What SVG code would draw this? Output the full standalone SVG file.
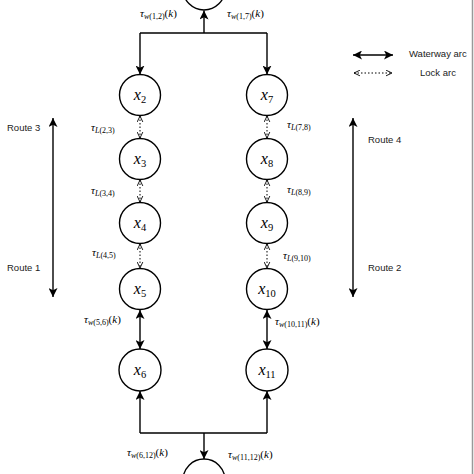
<svg xmlns="http://www.w3.org/2000/svg" width="474" height="474" viewBox="0 0 474 474">
<defs>
<marker id="arr" viewBox="0 0 10 10" refX="10" refY="5" markerWidth="9" markerHeight="9" markerUnits="userSpaceOnUse" orient="auto-start-reverse">
<path d="M0,0 L10,5 L0,10 L2.5,5 z" fill="#000"/>
</marker>
<marker id="chev" viewBox="0 0 10 10" refX="9.5" refY="5" markerWidth="7" markerHeight="7" markerUnits="userSpaceOnUse" orient="auto-start-reverse">
<path d="M1,1 L9.5,5 L1,9" fill="none" stroke="#000" stroke-width="1.3"/>
</marker>
</defs>
<style>
.node circle{fill:#fff;stroke:#000;stroke-width:1.4}
.nl{font-family:"Liberation Serif",serif;font-style:italic;font-size:16px;text-anchor:middle;fill:#000}
.nl tspan.s{font-size:10.5px;font-style:normal}
.w{fill:none;stroke:#000;stroke-width:1.4}
.wa{marker-start:url(#arr);marker-end:url(#arr)}
.lk{fill:none;stroke:#000;stroke-width:1;stroke-dasharray:1.5 2;marker-start:url(#chev);marker-end:url(#chev)}
.m{font-family:"Liberation Serif",serif;font-size:11px;fill:#000}
.m .i{font-style:italic}
.m .sb{font-size:8px}
.lg{font-family:"Liberation Sans",Arial,sans-serif;font-size:9.5px;fill:#222}
</style>
<rect width="474" height="474" fill="#fff"/>
<line x1="472.5" y1="0" x2="472.5" y2="474" stroke="#999" stroke-width="1.5"/>

<g id="connectors">
<path class="w" d="M140,33 H267"/>
<path class="w" d="M204,33 V10.5" marker-end="url(#arr)"/>
<path class="w" d="M140,33 V74.5" marker-end="url(#arr)"/>
<path class="w" d="M267,33 V74.5" marker-end="url(#arr)"/>
<line class="lk" x1="140" y1="116" x2="140" y2="138"/>
<line class="lk" x1="140" y1="180" x2="140" y2="202"/>
<line class="lk" x1="140" y1="244" x2="140" y2="268"/>
<line class="lk" x1="267" y1="116" x2="267" y2="138"/>
<line class="lk" x1="267" y1="180" x2="267" y2="202"/>
<line class="lk" x1="267" y1="244" x2="267" y2="268"/>
<line class="w wa" x1="140" y1="310" x2="140" y2="349"/>
<line class="w wa" x1="267" y1="310" x2="267" y2="349"/>
<path class="w" d="M140,433 H267"/>
<path class="w" d="M140,433 V391" marker-end="url(#arr)"/>
<path class="w" d="M267,433 V391" marker-end="url(#arr)"/>
<path class="w" d="M204,433 V459" marker-end="url(#arr)"/>
</g>

<g id="n1" class="node"><circle cx="204" cy="-11" r="21"/></g>
<g id="n2" class="node"><circle cx="140" cy="95" r="20.5"/><text class="nl" x="140" y="100">x<tspan class="s" dy="3">2</tspan></text></g>
<g id="n3" class="node"><circle cx="140" cy="159" r="20.5"/><text class="nl" x="140" y="164">x<tspan class="s" dy="3">3</tspan></text></g>
<g id="n4" class="node"><circle cx="140" cy="223" r="20.5"/><text class="nl" x="140" y="228">x<tspan class="s" dy="3">4</tspan></text></g>
<g id="n5" class="node"><circle cx="140" cy="289" r="20.5"/><text class="nl" x="140" y="294">x<tspan class="s" dy="3">5</tspan></text></g>
<g id="n6" class="node"><circle cx="140" cy="370" r="21"/><text class="nl" x="140" y="375">x<tspan class="s" dy="3">6</tspan></text></g>
<g id="n7" class="node"><circle cx="267" cy="95" r="20.5"/><text class="nl" x="267" y="100">x<tspan class="s" dy="3">7</tspan></text></g>
<g id="n8" class="node"><circle cx="267" cy="159" r="20.5"/><text class="nl" x="267" y="164">x<tspan class="s" dy="3">8</tspan></text></g>
<g id="n9" class="node"><circle cx="267" cy="223" r="20.5"/><text class="nl" x="267" y="228">x<tspan class="s" dy="3">9</tspan></text></g>
<g id="n10" class="node"><circle cx="267" cy="289" r="20.5"/><text class="nl" x="267" y="294">x<tspan class="s" dy="3">10</tspan></text></g>
<g id="n11" class="node"><circle cx="267" cy="370" r="21"/><text class="nl" x="267" y="375">x<tspan class="s" dy="3">11</tspan></text></g>
<g id="n12" class="node"><circle cx="204" cy="480" r="21"/></g>

<g id="labels">
<text class="m" x="140" y="17"><tspan class="i">τ</tspan><tspan class="sb" dy="2"><tspan class="i">w</tspan>(1,2)</tspan><tspan dy="-2">(<tspan class="i">k</tspan>)</tspan></text>
<text class="m" x="227" y="17"><tspan class="i">τ</tspan><tspan class="sb" dy="2"><tspan class="i">w</tspan>(1,7)</tspan><tspan dy="-2">(<tspan class="i">k</tspan>)</tspan></text>
<text class="m" x="91" y="131"><tspan class="i">τ</tspan><tspan class="sb" dy="2"><tspan class="i">L</tspan>(2,3)</tspan></text>
<text class="m" x="91" y="194"><tspan class="i">τ</tspan><tspan class="sb" dy="2"><tspan class="i">L</tspan>(3,4)</tspan></text>
<text class="m" x="92" y="256"><tspan class="i">τ</tspan><tspan class="sb" dy="2"><tspan class="i">L</tspan>(4,5)</tspan></text>
<text class="m" x="287" y="128"><tspan class="i">τ</tspan><tspan class="sb" dy="2"><tspan class="i">L</tspan>(7,8)</tspan></text>
<text class="m" x="287" y="193"><tspan class="i">τ</tspan><tspan class="sb" dy="2"><tspan class="i">L</tspan>(8,9)</tspan></text>
<text class="m" x="283" y="259"><tspan class="i">τ</tspan><tspan class="sb" dy="2"><tspan class="i">L</tspan>(9,10)</tspan></text>
<text class="m" x="84" y="323"><tspan class="i">τ</tspan><tspan class="sb" dy="2"><tspan class="i">w</tspan>(5,6)</tspan><tspan dy="-2">(<tspan class="i">k</tspan>)</tspan></text>
<text class="m" x="275" y="325"><tspan class="i">τ</tspan><tspan class="sb" dy="2"><tspan class="i">w</tspan>(10,11)</tspan><tspan dy="-2">(<tspan class="i">k</tspan>)</tspan></text>
<text class="m" x="127" y="456"><tspan class="i">τ</tspan><tspan class="sb" dy="2"><tspan class="i">w</tspan>(6,12)</tspan><tspan dy="-2">(<tspan class="i">k</tspan>)</tspan></text>
<text class="m" x="228" y="458"><tspan class="i">τ</tspan><tspan class="sb" dy="2"><tspan class="i">w</tspan>(11,12)</tspan><tspan dy="-2">(<tspan class="i">k</tspan>)</tspan></text>
</g>

<g id="routes">
<line class="w wa" x1="53" y1="118" x2="53" y2="297"/>
<line class="w wa" x1="353" y1="118" x2="353" y2="297"/>
<text class="lg" x="7" y="131">Route 3</text>
<text class="lg" x="7" y="271">Route 1</text>
<text class="lg" x="368" y="143">Route 4</text>
<text class="lg" x="368" y="271">Route 2</text>
</g>

<g id="legend">
<line class="w wa" x1="353" y1="55" x2="393" y2="55"/>
<line class="lk" x1="354" y1="73" x2="392" y2="73"/>
<text class="lg" x="409" y="57">Waterway arc</text>
<text class="lg" x="420" y="76">Lock arc</text>
</g>
</svg>
